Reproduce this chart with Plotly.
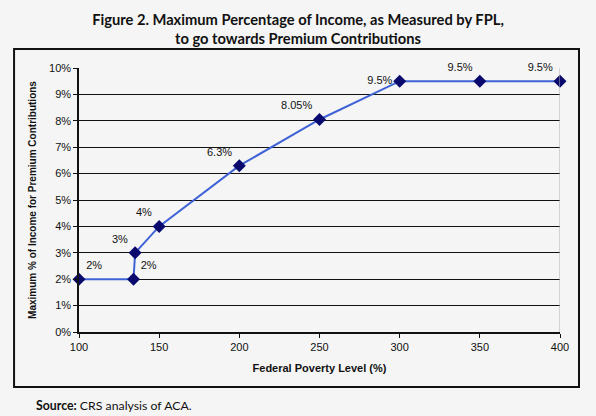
import plotly.graph_objects as go

# Data
fpl = [100, 134, 135, 150, 200, 250, 300, 350, 400]
max_pct = [2, 2, 3, 4, 6.3, 8.05, 9.5, 9.5, 9.5]
labels = ['2%', '2%', '3%', '4%', '6.3%', '8.05%', '9.5%', '9.5%', '9.5%']
label_pos = ['top right', 'top right', 'top left', 'top left', 'top left',
             'top left', 'middle left', 'top left', 'top left']

y_ticks = list(range(0, 11))
y_ticklabels = ['%d%%' % v for v in y_ticks]
x_ticks = [100, 150, 200, 250, 300, 350, 400]

bg = '#f5f5f5'

fig = go.Figure(data=[
    go.Scatter(
        x=fpl,
        y=max_pct,
        text=labels,
        textposition=label_pos,
        mode='lines+markers+text',
        line=dict(color='#3f63d6', width=2),
        marker=dict(symbol='diamond', size=10, color='#0a0a6e'),
        textfont=dict(family='Liberation Sans, Arial', size=11, color='#111111'),
        cliponaxis=False,
        hoverinfo='x+y'
    )
])

fig.update_layout(
    width=596,
    height=416,
    margin=dict(l=79, r=36, t=68, b=84),
    paper_bgcolor=bg,
    plot_bgcolor=bg,
    showlegend=False,
    title=dict(
        text='<b>Figure 2. Maximum Percentage of Income, as Measured by FPL,<br>to go towards Premium Contributions</b>',
        x=0.5,
        xanchor='center',
        y=0.941,
        yanchor='top',
        font=dict(family='Lato, Open Sans, sans-serif', size=14.7, color='#111111')
    ),
    font=dict(family='Liberation Sans, Arial', color='#111111')
)

fig.update_xaxes(
    range=[100, 400],
    tickvals=x_ticks,
    ticks='outside',
    ticklen=4,
    tickcolor='#111111',
    tickfont=dict(size=11),
    showline=True,
    linecolor='#111111',
    linewidth=1.5,
    showgrid=False,
    zeroline=False,
    title=dict(text='<b>Federal Poverty Level (%)</b>', font=dict(size=11), standoff=12),
    fixedrange=True
)

fig.update_yaxes(
    range=[0, 10],
    tickvals=y_ticks,
    ticktext=y_ticklabels,
    ticks='outside',
    ticklen=4,
    tickcolor='#111111',
    tickfont=dict(size=11),
    showline=True,
    linecolor='#111111',
    linewidth=1.5,
    showgrid=True,
    gridcolor='#111111',
    gridwidth=1,
    zeroline=False,
    title=dict(text='<b>Maximum % of Income for Premium Contributions</b>', font=dict(size=10), standoff=11),
    fixedrange=True
)

# light right border of the plot area
fig.add_shape(type='line', xref='x', yref='paper', x0=400, x1=400, y0=0, y1=1,
              line=dict(color='#b0b0b0', width=1))

# outer frame around the chart
fig.add_shape(type='rect', xref='paper', yref='paper',
              x0=-0.135, x1=1.0395, y0=-0.208, y1=1.072,
              line=dict(color='#111111', width=2), layer='below')

fig.add_annotation(
    text='<b>Source:</b> CRS analysis of ACA.',
    xref='paper', yref='paper',
    x=-0.094, y=-0.28,
    xanchor='left', yanchor='middle',
    showarrow=False,
    font=dict(family='Lato, Open Sans, sans-serif', size=12.3, color='#111111')
)

fig.write_html('out.html',
               config={'displayModeBar': False},
               post_script="document.body.style.margin='0';document.body.style.background='%s';" % bg)
